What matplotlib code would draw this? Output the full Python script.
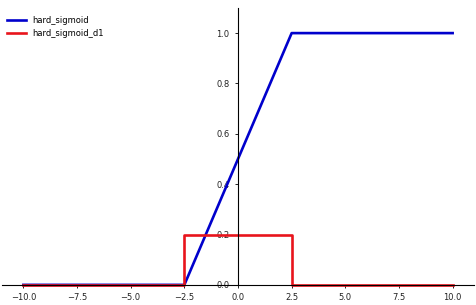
import matplotlib
matplotlib.use("Agg")
import matplotlib.pyplot as plt

# hard_sigmoid and its derivative at the corners
x_sig = [-10.0, -2.5, 2.5, 10.0]
y_sig = [0.0, 0.0, 1.0, 1.0]
x_d1 = [-10.0, -2.5, -2.5, 2.5, 2.5, 10.0]
y_d1 = [0.0, 0.0, 0.2, 0.2, 0.0, 0.0]

fig = plt.figure(figsize=(4.76, 3.05), dpi=100)
ax = fig.add_axes([0.004, 0.066, 0.992, 0.908])

ax.plot(x_sig, y_sig, color="#0000cc", lw=1.9, label="hard_sigmoid", clip_on=False)
ax.plot(x_d1, y_d1, color="#e8141c", lw=1.9, label="hard_sigmoid_d1", clip_on=False)

ax.spines["right"].set_visible(False)
ax.spines["top"].set_visible(False)
ax.spines["left"].set_position(("data", 0))
ax.spines["bottom"].set_position(("data", 0))
ax.set_xlim(-11, 11)
ax.set_ylim(0, 1.1)
ax.set_xticks([-10, -7.5, -5, -2.5, 0, 2.5, 5, 7.5, 10])
ax.set_yticks([0, 0.2, 0.4, 0.6, 0.8, 1.0])
ax.tick_params(labelsize=6, length=2.5, width=0.6, labelcolor="#222222")
for s in ax.spines.values():
    s.set_linewidth(0.8)

ax.legend(loc="upper left", frameon=False, fontsize=6, handlelength=2.3,
          borderaxespad=0.2, bbox_to_anchor=(0.0, 0.99))

fig.savefig("out.png", dpi=100)
